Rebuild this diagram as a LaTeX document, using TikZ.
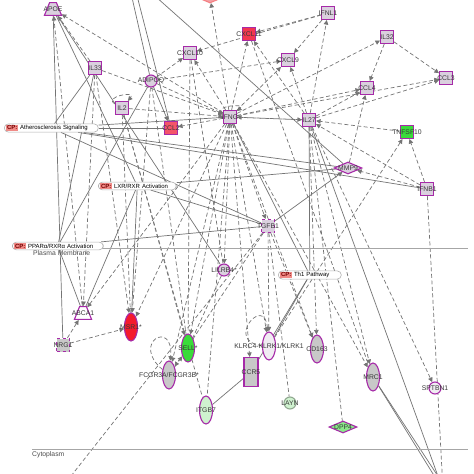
\documentclass[tikz,border=0pt]{standalone}
\usepackage{fontspec}
\setmainfont{Liberation Sans}
\usetikzlibrary{shapes.geometric,arrows.meta,backgrounds}
\definecolor{MG}{HTML}{A62AA8}
\definecolor{GF}{HTML}{DAD0DE}
\definecolor{GR}{HTML}{C8C8C8}
\definecolor{RD}{HTML}{F2364E}
\definecolor{RS}{HTML}{F41B2C}
\definecolor{GN}{HTML}{3ADB3A}
\definecolor{LG}{HTML}{CFF2CF}
\definecolor{PK}{HTML}{F2A0A4}
\definecolor{EG}{HTML}{747474}
\definecolor{CPR}{HTML}{F08A86}
\newcommand{\cptag}{{\setlength{\fboxsep}{0.7pt}\colorbox{CPR}{\textcolor{red!45!black}{\textbf{CP:}}}}}

\begin{document}
\begin{tikzpicture}[x=1pt,y=-1pt,
    gn/.style={draw=MG, line width=1.1pt, fill=GF, inner sep=0pt,
      label={[font=\fontsize{6.8}{7}\selectfont, text=black!78, inner sep=0pt]center:#1}},
    cyto/.style={gn=#1, rectangle, minimum size=13pt},
    grow/.style={gn=#1, rectangle, dashed, minimum size=13pt},
    rcpt/.style={gn=#1, ellipse, minimum width=13pt, minimum height=28pt, fill=GR},
    othr/.style={gn=#1, circle, minimum size=12pt},
    pept/.style={gn=#1, diamond, minimum width=28pt, minimum height=12pt},
    gpcr/.style={gn=#1, rectangle, minimum width=14pt, minimum height=29pt, fill=GR},
    trans/.style={gn=#1, trapezium, trapezium angle=68, inner xsep=2pt, inner ysep=3pt,
      minimum width=14pt, minimum height=12pt},
    cp/.style={draw=gray!60, fill=white, rounded corners=4pt, line width=0.6pt,
      inner xsep=2pt, inner ysep=1pt, anchor=west, align=left,
      font=\fontsize{6}{6.5}\selectfont},
    dl/.style={draw=EG, line width=0.7pt, dash pattern=on 4pt off 2.5pt,
      -{Triangle[length=4.5pt,width=4.5pt]}},
    dn/.style={draw=EG, line width=0.7pt, dash pattern=on 4pt off 2.5pt},
    sl/.style={draw=EG, line width=0.7pt},
    sa/.style={sl, -{Triangle[length=4.5pt,width=4.5pt]}}]
  \useasboundingbox (0,0) rectangle (474,474);

  % membranes
  \draw[gray!70, line width=0.8pt] (32,248) -- (468,248);
  \draw[gray!70, line width=0.8pt] (32,449) -- (468,449);
  \node[anchor=north west, inner sep=0pt, text=black!70, font=\fontsize{6.8}{7}\selectfont]
    (pmtext) at (33,250) {Plasma Membrane};
  \node[anchor=north west, inner sep=0pt, text=black!70, font=\fontsize{6.8}{7}\selectfont]
    (cytext) at (32,451) {Cytoplasm};

  % genes
  \node[pept={}, fill=PK, draw=PK!80!red] (topx) at (210,-3) {};
  \node[trans=APOE] (apoe) at (53,9) {\phantom{I}};
  \node[cyto=IL33] (il33) at (95,68) {};
  \node[othr=ADIPOQ] (adipoq) at (151,81) {};
  \node[cyto=CXCL10] (cxcl10) at (190,53) {};
  \node[cyto=CXCL11, fill=RD] (cxcl11) at (249,34) {};
  \node[cyto=IFNL1] (ifnl1) at (328,13) {};
  \node[cyto=CXCL9] (cxcl9) at (288,60) {};
  \node[cyto=IL32] (il32) at (387,37) {};
  \node[cyto=CCL3] (ccl3) at (446,78) {};
  \node[cyto=CCL4] (ccl4) at (367,88) {};
  \node[cyto=IL2] (il2) at (122,108) {};
  \node[cyto=IFNG] (ifng) at (230,117) {};
  \node[cyto=IL27] (il27) at (309,120) {};
  \node[cyto=CCL2, fill=RD!85] (ccl2) at (171,128) {};
  \node[cyto=TNFSF10, fill=GN] (tnfsf10) at (407,132) {};
  \node[pept=MMP9] (mmp9) at (348,168) {};
  \node[cyto=IFNB1] (ifnb1) at (427,189) {};
  \node[grow=TGFB1] (tgfb1) at (268,226) {};
  \node[othr=LILRB4*] (lilrb4) at (224,270) {};
  \node[trans=ABCA1, fill=white] (abca1) at (83,313) {\phantom{I}};
  \node[grow=NRG1, fill=GR] (nrg1) at (63,345) {};
  \node[rcpt=MSR1*, fill=RS] (msr1) at (131,327) {};
  \node[rcpt=SELL*, fill=GN] (sell) at (188,348) {};
  \node[rcpt=FCGR3A/FCGR3B*] (fcgr3) at (169,375) {};
  \node[rcpt=ITGB7, fill=LG] (itgb7) at (206,410) {};
  \node[rcpt=KLRC4-KLRK1/KLRK1, fill=GF!40] (klrk1) at (269,346) {};
  \node[gpcr=CCR5] (ccr5) at (251,372) {};
  \node[rcpt=CD163] (cd163) at (317,349) {};
  \node[rcpt=MRC1] (mrc1) at (373,377) {};
  \node[othr=SPTBN1, fill=GF!40] (sptbn1) at (435,388) {};
  \node[othr=LAYN, fill=LG, draw=LG!70!black] (layn) at (290,403) {};
  \node[pept=DPP4, fill=GN!60] (dpp4) at (343,427) {};

  % canonical pathways
  \node[cp, text width=90pt] (ather) at (4,128) {\cptag\ Atherosclerosis Signaling};
  \node[cp, text width=74pt] (lxr) at (98,186) {\cptag\ LXR/RXR Activation};
  \node[cp, text width=87pt] (ppar) at (12,246) {\cptag\ PPARα/RXRα Activation};
  \node[cp, text width=59pt] (th1) at (278,275) {\cptag\ Th1 Pathway};

  % partners outside the frame
  \coordinate (offt1) at (128,-20);
  \coordinate (offt2) at (133,-20);
  \coordinate (offt3) at (137,-20);
  \coordinate (offbr) at (443,490);
  \coordinate (offbr2) at (447,490);
  \coordinate (offbl) at (60,490);

  \begin{scope}[on background layer]
    \fill[white] (0,0) rectangle (474,474);
    \foreach \a/\b in {il33/apoe, ifng/apoe, abca1/apoe,
        adipoq/cxcl10, ifng/cxcl10, ifnl1/cxcl10,
        ifnl1/cxcl11, ifng/cxcl11, il27/cxcl11,
        ifnl1/cxcl9, ifng/cxcl9, il27/cxcl9, adipoq/cxcl9,
        il27/ifnl1, ifng/il32, il32/ccl4, il32/ccl3,
        ifng/ccl4, il27/ccl4, ifng/ccl3, il27/ccl3, mmp9/ccl4,
        tnfsf10/il27, ifnb1/tnfsf10, klrk1/tnfsf10, ifnb1/mmp9, ifnb1/il27,
        il33/ifng, il2/ifng, adipoq/ifng, ifng/ccl2, ifng/il27, il27/ifng,
        ifng/topx, ifng/tgfb1, ifng/lilrb4, ifng/msr1, il33/msr1,
        il33/abca1, ifng/abca1, nrg1/abca1, nrg1/msr1, adipoq/msr1,
        il2/sell, ifng/sell, fcgr3/sell, ifng/fcgr3, tgfb1/fcgr3,
        ifng/ccr5, ifng/klrk1, tgfb1/klrk1, il27/cd163, ifng/cd163,
        tgfb1/cd163, ifng/mrc1, il27/mrc1, il27/sptbn1}
      \draw[dl] (\a) -- (\b);
    \foreach \a/\b in {ifnb1/offbr, il27/dpp4, tgfb1/layn, tgfb1/offbl,
        lilrb4/sell, il2/itgb7, cxcl10/lilrb4, cxcl11/mrc1, ifng/itgb7,
        cxcl10/sell, adipoq/sell, il2/msr1}
      \draw[dn] (\a) -- (\b);
    \foreach \a/\b in {apoe/lilrb4, apoe/nrg1, ather/il33, ather/ccl2,
        ather/ifng, ather/mmp9, ather/ifnb1, ather/tgfb1,
        lxr/mmp9, lxr/tgfb1, lxr/msr1, lxr/abca1, lxr/apoe,
        ppar/tgfb1, ppar/il33, ppar/adipoq, ppar/abca1,
        th1/ifng, th1/il27, th1/ccr5, th1/klrk1,
        offt1/adipoq, offt2/ccl2, offt3/mmp9,
        il27/offbr, mrc1/offbr, mrc1/offbr2, itgb7/ccr5}
      \draw[sl] (\a) -- (\b);
    \draw[sa] (tgfb1) -- (mmp9);
    \draw[sa] (adipoq) -- (ccl2);
    % self loops
    \draw[dl] (il2) to[out=150, in=50, min distance=14pt] (il2);
    \draw[dl] (ifng) to[out=150, in=40, min distance=13pt] (ifng);
    \draw[dl] (klrk1) to[out=175, in=95, min distance=38pt] (klrk1);
    \draw[dl] (fcgr3) to[out=140, in=85, min distance=42pt] (fcgr3);
  \end{scope}
\end{tikzpicture}
\end{document}
